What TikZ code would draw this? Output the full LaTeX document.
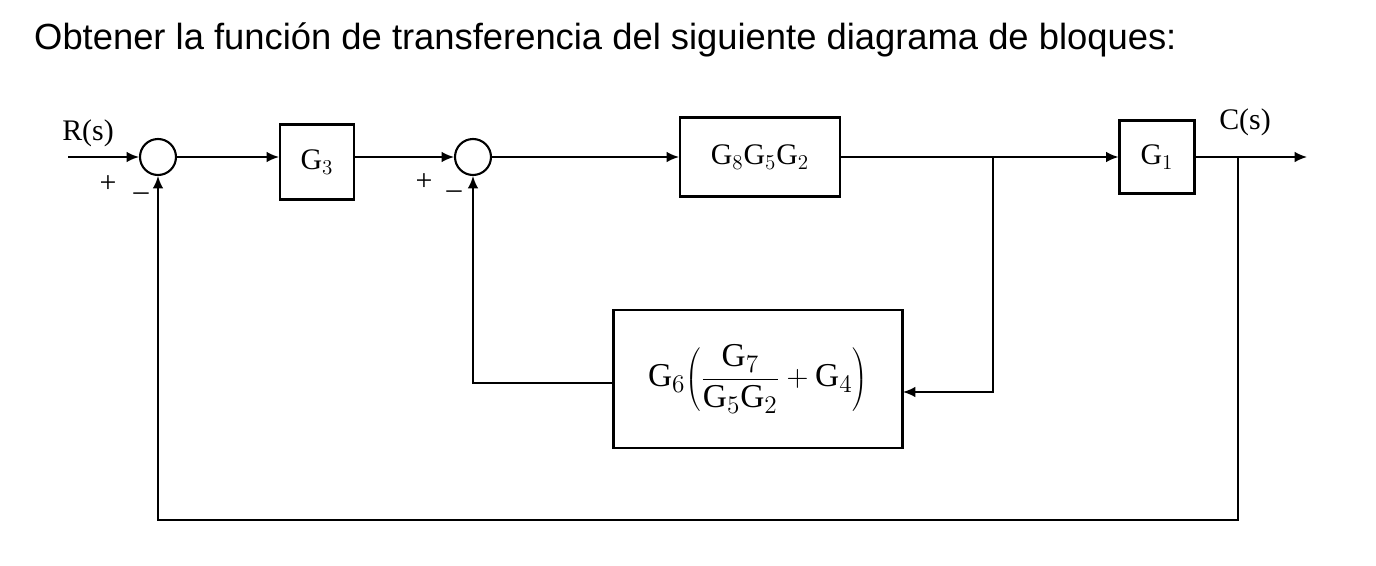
\documentclass[tikz,border=0pt]{standalone}
\usepackage{fontspec}
\setmainfont{Liberation Serif}
\newfontfamily\titlefont{Liberation Sans}
\usetikzlibrary{arrows.meta}
\begin{document}
\begin{tikzpicture}[x=0.02cm,y=-0.02cm,
  blk/.style={draw,line width=1.2pt,inner sep=0pt,font=\fontsize{17}{20}\selectfont},
  sumn/.style={draw,circle,line width=1.2pt,minimum size=0.72cm,inner sep=0pt},
  sig/.style={line width=1pt,-{Latex[length=7pt,width=6pt]}},
  ln/.style={line width=1pt},
  lbl/.style={font=\fontsize{17}{20}\selectfont}]
\useasboundingbox (0,0) rectangle (1376,565);
\node[anchor=west,font=\titlefont\fontsize{20.7}{24}\selectfont] (title) at (28,40) {Obtener la función de transferencia del siguiente diagrama de bloques:};
\node[sumn] (s1) at (158,157) {};
\node[sumn] (s2) at (473,157) {};
\node[blk,minimum width=1.48cm,minimum height=1.5cm] (g3) at (317,162) {G$_3$};
\node[blk,minimum width=3.2cm,minimum height=1.58cm] (g8) at (760,157) {G$_8$G$_5$G$_2$};
\node[blk,minimum width=1.5cm,minimum height=1.46cm] (g1) at (1157,157) {G$_1$};
\node[blk,minimum width=5.78cm,minimum height=2.76cm] (fb) at (758,379) {\fontsize{19}{22}\selectfont G$_6\!\left(\displaystyle\frac{\mathrm{G}_7}{\mathrm{G}_5\mathrm{G}_2}+\mathrm{G}_4\right)$};
\coordinate (in) at (68,157);
\coordinate (out) at (1307,157);
\coordinate (b1) at (993,157);
\coordinate (b2) at (1238,157);
\coordinate (fbin) at (903,392);
\node[lbl] (r) at (88,133) {R(s)};
\node[lbl] (c) at (1245,122) {C(s)};
\node[lbl] (p1) at (108,184) {+};
\node[lbl] (m1) at (141,192) {\_};
\node[lbl] (p2) at (424,182) {+};
\node[lbl] (m2) at (454,190) {\_};
\draw[sig] (in) -- (s1);
\draw[sig] (s1) -- (s1 -| g3.west);
\draw[sig] (g3.east |- s2) -- (s2);
\draw[sig] (s2) -- (g8);
\draw[ln] (g8) -- (b1);
\draw[sig] (b1) -- (g1);
\draw[sig] (g1) -- (out);
\draw[sig] (b1) |- (fbin);
\draw[sig] (fb.west |- 0,383) -| (s2.south);
\draw[sig] (b2) |- (s1.south |- 0,520) -- (s1.south);
\end{tikzpicture}
\end{document}
